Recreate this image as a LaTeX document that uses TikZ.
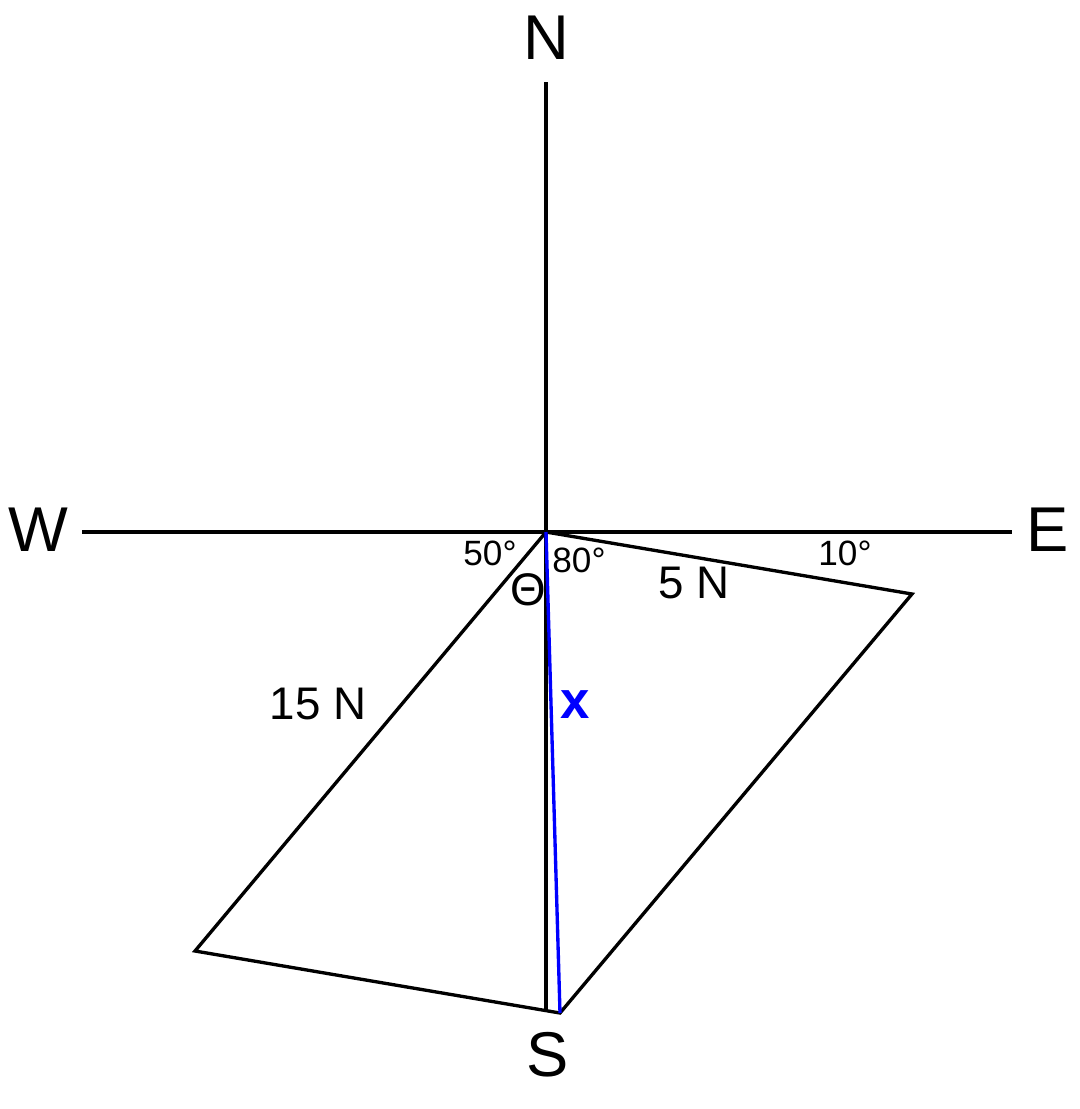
\documentclass[tikz,border=0pt]{standalone}
\usepackage{fontspec}
\setmainfont{Liberation Sans}
\usetikzlibrary{calc,positioning}
\tikzset{
  axis/.style={line width=0.95pt,black},
  force/.style={line width=0.95pt,black},
  big/.style={font=\fontsize{18}{20}\selectfont},
  angl/.style={font=\fontsize{10}{12}\selectfont},
  mag/.style={font=\fontsize{13}{15}\selectfont},
}
\begin{document}
\begin{tikzpicture}[x=0.01cm,y=-0.01cm]
        \useasboundingbox (0,0) rectangle (1080,1109);
        % compass
        \coordinate (O) at (546,532);
        \node[big] (N) at (546,38) {N};
        \node[big] (W) at (38,530) {W};
        \node[big] (E) at (1048,530) {E};
        \node[big] (S) at (548,1055) {S};
        \coordinate (Ntip) at (546,82);
        \coordinate (Wtip) at (82,532);
        \coordinate (Etip) at (1012,532);
        \coordinate (Stip) at (546,1011);
        \draw[axis] (Wtip) -- (Etip);
        \draw[axis] (Ntip) -- (Stip);
        % forces and parallelogram
        \coordinate (A) at (912,594);
        \coordinate (B) at (195,951);
        \coordinate (R) at (560,1013);
        \draw[force] (O) -- (A) -- (R) -- (B) -- cycle;
        \draw[line width=0.95pt,blue] (O) -- (R);
        % labels
        \node[angl] (a50) at (490,553) {50°};
        \node[angl] (a80) at (579,560) {80°};
        \node[mag] (th) at (528,590) {Θ};
        \node[angl] (a10) at (845,553) {10°};
        \node[mag] (f5) at (694,583) {5 N};
        \node[mag] (f15) at (318,704) {15 N};
        \node[font=\fontsize{15}{17}\selectfont\bfseries,blue] (x) at (575,705) {x};
\end{tikzpicture}
\end{document}
